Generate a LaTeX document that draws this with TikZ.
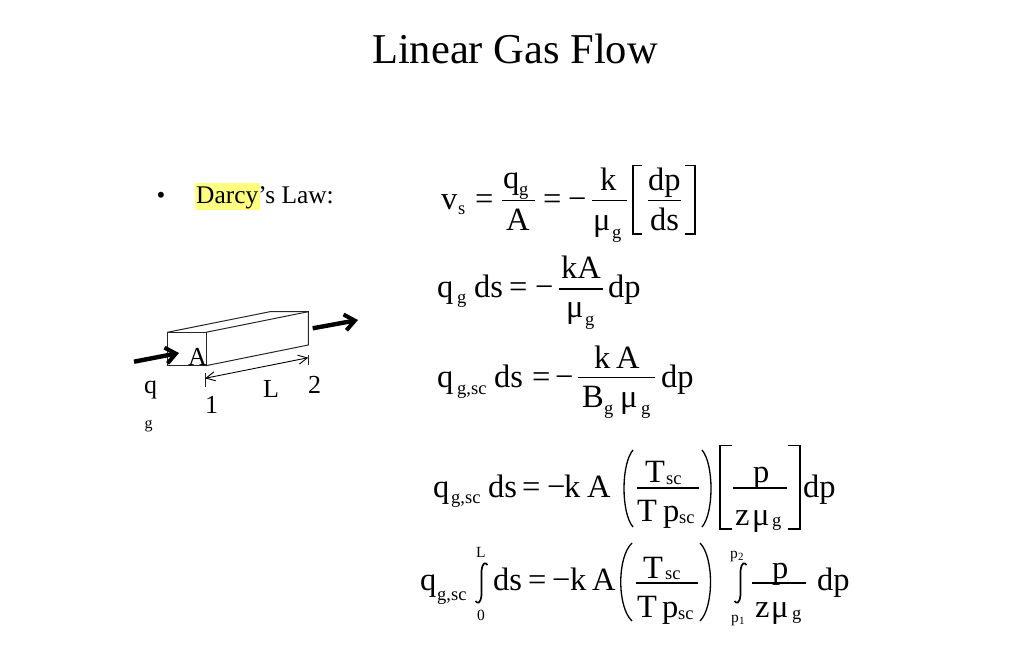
\documentclass[tikz,border=0pt]{standalone}
\usepackage{fontspec}
\usepackage{xcolor}
\setmainfont{Liberation Serif}
\usetikzlibrary{arrows.meta}
\definecolor{markYellow}{HTML}{FFFF80}
\newcommand{\sizedfont}[1]{\fontsize{#1}{#1}\selectfont}
\tikzset{txt-big/.style={inner sep=0, anchor=base west, font=\sizedfont{32.5}}}
\tikzset{txt-sub/.style={inner sep=0, anchor=base west, font=\sizedfont{18.5}}}
\tikzset{txt-lim/.style={inner sep=0, anchor=base west, font=\sizedfont{15.5}}}
\tikzset{txt-side/.style={inner sep=0, anchor=base west, font=\sizedfont{26}}}
\tikzset{frac-line/.style={line width=1.2pt}}
\tikzset{delim-line/.style={line width=1.3pt}}
\tikzset{box-line/.style={line width=1pt, draw=black!85}}
\tikzset{flow-arrow/.style={line width=4.4pt, -{Straight Barb[length=10pt, width=16pt, line width=4pt]}}}
\tikzset{dim-arrow/.style={line width=0.9pt, <->, >={Straight Barb[length=9pt, width=9pt]}}}
% text pieces of the equations
\newcommand{\bigtxt}[3]{\node[txt-big] (#1) at (#2) {#3};}
\newcommand{\lowtxt}[3]{\node[txt-sub] (#1) at (#2) {#3};}
\newcommand{\limtxt}[3]{\node[txt-lim] (#1) at (#2) {#3};}
% delimiters: x left, x right, y top, y bottom
\newcommand{\lbrk}[4]{\draw[delim-line] (#2,#3) -- (#1,#3) -- (#1,#4) -- (#2,#4);}
\newcommand{\rbrk}[4]{\draw[delim-line] (#1,#3) -- (#2,#3) -- (#2,#4) -- (#1,#4);}
\newcommand{\lprn}[4]{\draw[delim-line] (#2,#3) .. controls (#1-1,#3+14) and (#1-1,#4-14) .. (#2,#4);}
\newcommand{\rprn}[4]{\draw[delim-line] (#1,#3) .. controls (#2+1,#3+14) and (#2+1,#4-14) .. (#1,#4);}
\newcommand{\intsign}[3]{\draw[line width=1.7pt] (#1+6,#2+2) .. controls (#1+4,#2-1) and (#1+1,#2-1) .. (#1,#2+8)
    -- (#1,#3-8) .. controls (#1-1,#3+1) and (#1-4,#3+1) .. (#1-6,#3-2);}

\begin{document}
\begin{tikzpicture}[x=1pt, y=-1pt]
    \useasboundingbox (0,0) rectangle (1024,671);

    \node[inner sep=0, anchor=base, font=\sizedfont{42.5}] (title) at (515,63.5) {Linear Gas Flow};

    \node[inner sep=0, anchor=base, font=\sizedfont{25}] (bullet) at (161,203) {•};
    \node[inner sep=0, fill=markYellow, minimum width=65pt, minimum height=27pt] (darcy) at (227.5,196.5) {};
    \node[inner sep=0, anchor=base west, font=\sizedfont{25.4}] (law) at (196,203) {Darcy’s Law:};

    % block
    \coordinate (fronttl) at (167.3,332.3);
    \coordinate (fronttr) at (206,332.3);
    \coordinate (frontbr) at (206,365.7);
    \coordinate (frontbl) at (167.3,365.7);
    \coordinate (backtl) at (270,311.7);
    \coordinate (backtr) at (308.3,311.7);
    \coordinate (backbr) at (308.3,345);
    \draw[box-line] (fronttl) -- (fronttr) -- (frontbr) -- (frontbl) -- cycle;
    \draw[box-line] (fronttl) -- (backtl) -- (backtr) -- (backbr) -- (frontbr);
    \draw[box-line] (fronttr) -- (backtr);

    \coordinate (inflowa) at (134,361.7);
    \coordinate (inflowb) at (179,353);
    \coordinate (outflowa) at (312.7,328.3);
    \coordinate (outflowb) at (358,320);
    \draw[flow-arrow] (inflowa) -- (inflowb);
    \draw[flow-arrow] (outflowa) -- (outflowb);

    \coordinate (tick1a) at (205,373);
    \coordinate (tick1b) at (205,387);
    \coordinate (tick2a) at (308.3,355);
    \coordinate (tick2b) at (308.3,365);
    \coordinate (dim1) at (205,378.3);
    \coordinate (dim2) at (308.3,357.7);
    \draw[box-line] (tick1a) -- (tick1b);
    \draw[box-line] (tick2a) -- (tick2b);
    \draw[dim-arrow] (dim1) -- (dim2);

    \node[txt-side] (labA) at (188,365.5) {A};
    \node[txt-side] (labq) at (144,393.5) {q};
    \node[txt-sub, font=\sizedfont{16}] (labg) at (144.5,428) {g};
    \node[txt-side] (labL) at (263,397) {L};
    \node[txt-side] (lab1) at (205,413) {1};
    \node[txt-side] (lab2) at (308,393) {2};

    % first equation
    \bigtxt{av}{441,209}{v}
    \lowtxt{as}{458,214}{s}
    \bigtxt{aeq}{475,209}{=}
    \bigtxt{aq}{503,189}{q}
    \lowtxt{ag}{519,195}{g}
    \draw[frac-line] (502,200.5) -- (535,200.5);
    \bigtxt{aA}{506,230}{A}
    \bigtxt{beq}{543,209}{=}
    \bigtxt{bmin}{568,209}{−}
    \bigtxt{bk}{600,190}{k}
    \draw[frac-line] (592,200.5) -- (627,200.5);
    \bigtxt{bmu}{593,230}{μ}
    \lowtxt{bg}{612,238}{g}
    \lbrk{633}{642}{165.5}{234}
    \bigtxt{cdp}{648,190}{dp}
    \draw[frac-line] (648,200.5) -- (681,200.5);
    \bigtxt{cds}{650,230}{ds}
    \rbrk{685}{695}{165.5}{234}

    % second equation
    \bigtxt{dq}{437,297.5}{q}
    \lowtxt{dg}{457,303}{g}
    \bigtxt{dds}{474,297.5}{ds}
    \bigtxt{deq}{509,297.5}{=}
    \bigtxt{dmin}{535,297.5}{−}
    \bigtxt{dkA}{561,278}{kA}
    \draw[frac-line] (559,289) -- (603,289);
    \bigtxt{dmu}{566,317}{μ}
    \lowtxt{dg2}{585,325}{g}
    \bigtxt{ddp}{608,297.5}{dp}

    % third equation
    \bigtxt{eq}{437,387}{q}
    \lowtxt{eg}{457,394}{g,sc}
    \bigtxt{eds}{494,387}{ds}
    \bigtxt{eeq}{532,387}{=}
    \bigtxt{emin}{555,387}{−}
    \bigtxt{ek}{594,368}{k}
    \bigtxt{eA}{616,368}{A}
    \draw[frac-line] (578,377.5) -- (655,377.5);
    \bigtxt{eB}{582,407}{B}
    \lowtxt{eg2}{604,414}{g}
    \bigtxt{emu}{620,407}{μ}
    \lowtxt{eg3}{641,414}{g}
    \bigtxt{edp}{661,387}{dp}

    % fourth equation
    \bigtxt{fq}{433,497}{q}
    \lowtxt{fg}{451,503}{g,sc}
    \bigtxt{fds}{488,497}{ds}
    \bigtxt{feq}{522,497}{=}
    \bigtxt{fmin}{547,497}{−}
    \bigtxt{fk}{564,497}{k}
    \bigtxt{fA}{587,497}{A}
    \lprn{622}{633}{450}{527}
    \bigtxt{fT}{645,482}{T}
    \lowtxt{fsc}{666,484}{sc}
    \draw[frac-line] (637,488) -- (699,488);
    \bigtxt{fT2}{637,521}{T}
    \bigtxt{fp}{663,521}{p}
    \lowtxt{fsc2}{679,523}{sc}
    \rprn{702}{713}{450}{527}
    \lbrk{720}{732}{445.5}{529}
    \bigtxt{fp2}{753,482}{p}
    \draw[frac-line] (733,488) -- (787,488);
    \bigtxt{fz}{735,525}{z}
    \bigtxt{fmu}{752,525}{μ}
    \lowtxt{fg2}{772,526}{g}
    \rbrk{788}{800}{445.5}{529}
    \bigtxt{fdp}{803,497}{dp}

    % fifth equation
    \bigtxt{gq}{420,590}{q}
    \lowtxt{gg}{437,600}{g,sc}
    \limtxt{gL}{476,557}{L}
    \intsign{481.5}{563}{603}
    \limtxt{g0}{477,620}{0}
    \bigtxt{gds}{493,590}{ds}
    \bigtxt{geq}{528,590}{=}
    \bigtxt{gmin}{552,590}{−}
    \bigtxt{gk}{570,590}{k}
    \bigtxt{gA}{592,590}{A}
    \lprn{618}{632}{543}{621}
    \bigtxt{gT}{643,578}{T}
    \lowtxt{gsc}{665,579}{sc}
    \draw[frac-line] (636,583) -- (698,583);
    \bigtxt{gT2}{637,617}{T}
    \bigtxt{gp}{662,617}{p}
    \lowtxt{gsc2}{678,619}{sc}
    \rprn{700}{713}{543}{621}
    \limtxt{gp2}{730,558}{p}
    \node[inner sep=0, anchor=base west, font=\sizedfont{11}] (gtwo) at (738,560) {2};
    \intsign{740.5}{563}{603}
    \limtxt{gp1}{731,622}{p}
    \node[inner sep=0, anchor=base west, font=\sizedfont{11}] (gone) at (739,624) {1};
    \bigtxt{gp3}{772,578}{p}
    \draw[frac-line] (752,583) -- (806,583);
    \bigtxt{gz}{755,617}{z}
    \bigtxt{gmu}{771,617}{μ}
    \lowtxt{gg2}{792,619}{g}
    \bigtxt{gdp}{817,590}{dp}
\end{tikzpicture}
\end{document}
